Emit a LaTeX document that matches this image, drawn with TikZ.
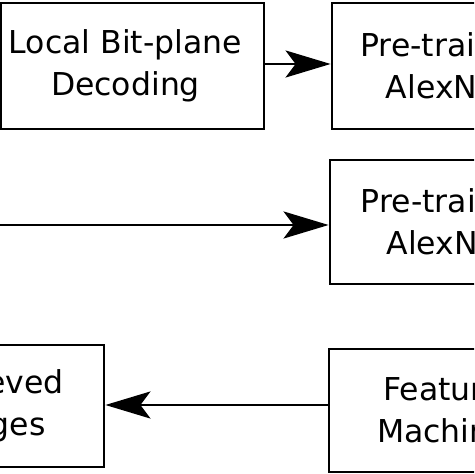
\documentclass[tikz,border=0pt]{standalone}
\usepackage{fontspec}
\setmainfont{DejaVu Sans}
\usetikzlibrary{arrows.meta,positioning}

\begin{document}
\begin{tikzpicture}
[x=0.5pt,y=-0.5pt,
 txt/.style={align=center,inner sep=0pt,font=\fontsize{15.75}{21}\selectfont},
 box/.style={txt,draw,line width=1.4pt},
 arr/.style={line width=1.4pt,-{Stealth[length=22.5pt,width=13.5pt,inset=5pt]}}]
\useasboundingbox (0,0) rectangle (474,474);
\clip (0,0) rectangle (474,474);
% top row
\node[box,minimum width=131.5pt,minimum height=63pt] (decode) at (132.5,66) {};
\node[txt] (decodetxt) at ([xshift=-3.5pt]decode.center)
	{Local Bit-plane\\Decoding};
\node[box,minimum width=115.5pt,minimum height=63pt] (alexA) at (447.5,66)
	{Pre-trained\\AlexNet};
\draw[arr] (decode.east |- 0,64) -- (alexA.west |- 0,64);
% middle row
\coordinate (query) at (-10,225);
\node[box,minimum width=118pt,minimum height=62pt] (alexB) at (448,222)
	{Pre-trained\\AlexNet};
\draw[arr] (query) -- (alexB.west |- query);
% bottom row
\node[box,minimum width=116pt,minimum height=61pt] (result) at (-12,406)
	{Retrieved\\Images};
\node[box,minimum width=114pt,minimum height=61.5pt] (match) at (443,410.5)
	{Feature\\Machine};
\draw[arr] (match.west |- 0,405) -- (result.east |- 0,405);
\end{tikzpicture}
\end{document}
